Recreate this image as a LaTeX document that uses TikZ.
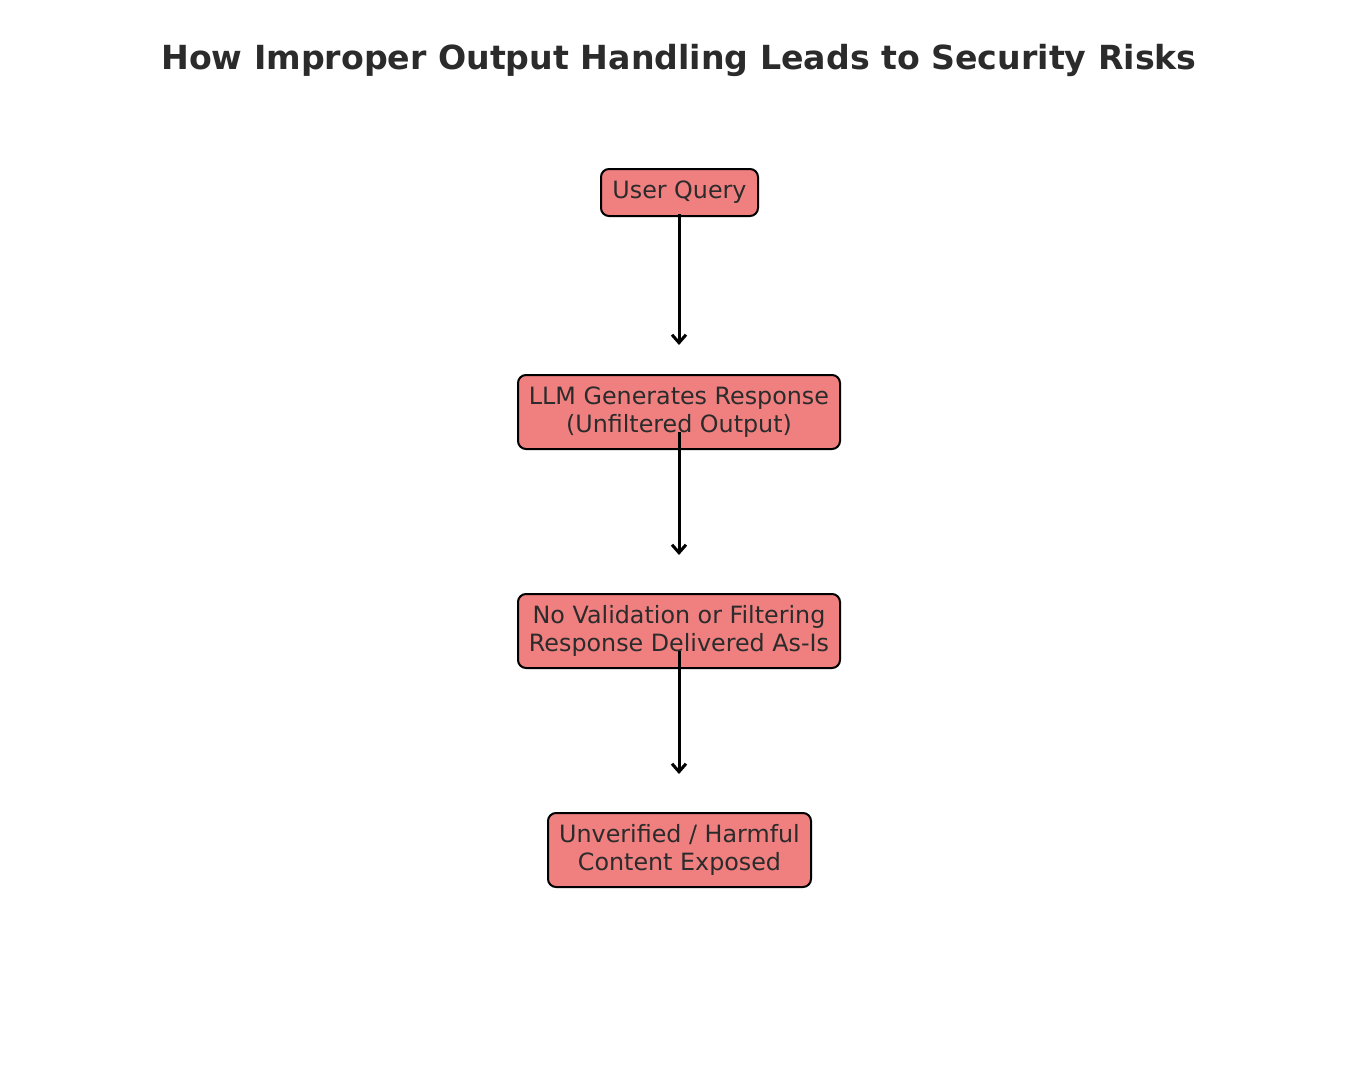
\documentclass[tikz,border=0pt]{standalone}
\usepackage{fontspec}
\setmainfont{DejaVu Sans}
\usetikzlibrary{arrows.meta,calc}
\definecolor{boxfill}{HTML}{F08080}
\definecolor{txt}{HTML}{2B2B2B}
\begin{document}
\begin{tikzpicture}[x=1pt,y=-1pt,
  flowbox/.style={draw=black,line width=2pt,fill=boxfill,rounded corners=8pt,
    text=txt,align=center,inner sep=0pt,font=\fontsize{23.8}{28}\selectfont},
  flowarrow/.style={draw=black,line width=3pt,-{Straight Barb[length=8pt,width=14pt,line width=3pt]}}]
\useasboundingbox (0,0) rectangle (1358,1087);
\node[font=\bfseries\fontsize{33.2}{38}\selectfont,text=txt] (title) at (679,60) {How Improper Output Handling Leads to Security Risks};
\node[flowbox,minimum width=157pt,minimum height=47pt] (q) at (679.5,192.5) {User Query};
\node[flowbox,minimum width=322pt,minimum height=74pt] (llm) at (679,412) {LLM Generates Response\\(Unfiltered Output)};
\node[flowbox,minimum width=322pt,minimum height=74pt] (nv) at (679,631) {No Validation or Filtering\\Response Delivered As-Is};
\node[flowbox,minimum width=263pt,minimum height=74pt] (un) at (679.5,850) {Unverified / Harmful\\Content Exposed};
\coordinate (s1) at (679,214);
\coordinate (e1) at (679,345);
\coordinate (s2) at (679,432);
\coordinate (e2) at (679,555);
\coordinate (s3) at (679,651);
\coordinate (e3) at (679,774);
\draw[flowarrow] (s1) -- (e1);
\draw[flowarrow] (s2) -- (e2);
\draw[flowarrow] (s3) -- (e3);
\end{tikzpicture}
\end{document}
